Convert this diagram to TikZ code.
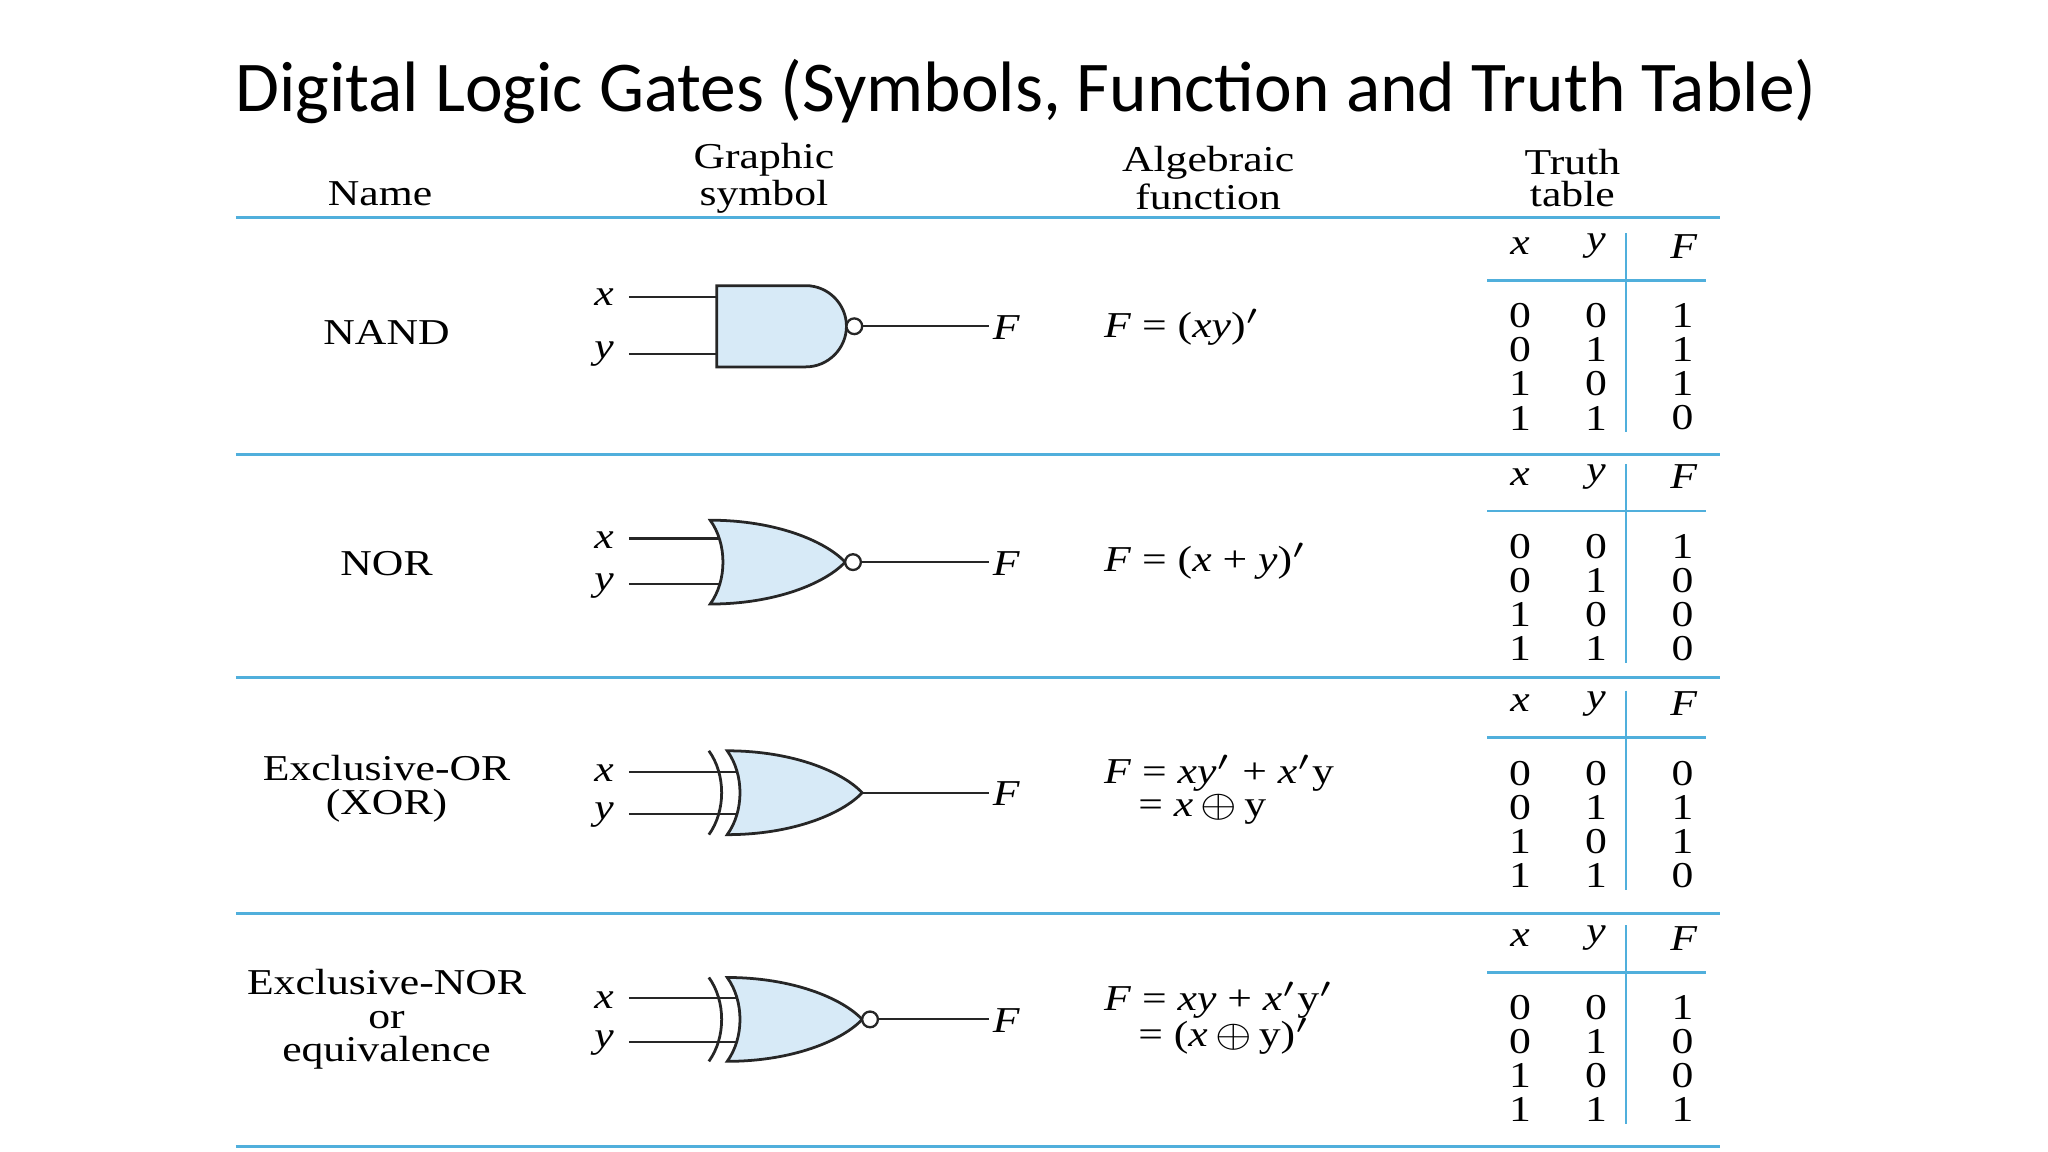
\documentclass[tikz,border=0pt]{standalone}
\usepackage{fontspec}
\setmainfont{Liberation Serif}
\newfontfamily\titlefont{Carlito}
\definecolor{rule}{RGB}{80,175,220}
\definecolor{gatefill}{RGB}{215,234,247}
\newcommand{\wide}[1]{\scalebox{1.2}[1]{#1}}
\begin{document}
\begin{tikzpicture}[x=0.01cm,y=-0.01cm,
  txt/.style={font=\fontsize{7.9}{7.2}\selectfont, inner sep=0pt},
  dig/.style={font=\fontsize{7.9}{9}\selectfont, inner sep=0pt},
  itl/.style={font=\fontsize{7.9}{9}\selectfont\itshape, inner sep=0pt},
  hdr/.style={font=\fontsize{7.9}{7}\selectfont, inner sep=0pt, align=center},
  rulel/.style={draw=rule, line width=0.6pt},
  wire/.style={draw=black!85, line width=0.45pt},
  bub/.style={draw=black!85,line width=0.5pt,fill=white,circle,minimum size=0.12cm,inner sep=0pt},
  gate/.style={draw=black!85, line width=0.6pt, fill=gatefill}]
\useasboundingbox (0,0) rectangle (1563,879);
\node[font=\titlefont\fontsize{15.5}{16}\selectfont, inner sep=0pt] (title) at (783,70) {Digital Logic Gates (Symbols, Function and Truth Table)};
% headers
\node[hdr] (hName) at (290,148) {\wide{Name}};
\node[hdr] (hG) at (583,136) {\wide{Graphic}\\\wide{symbol}};
\node[hdr] (hA) at (922,136) {\wide{Algebraic}\\\wide{function}};
\node[hdr] (hT) at (1200,136) {\wide{Truth}\\\wide{table}};
% rules
\foreach \yy/\n in {166/r0,347/r1,517/r2,697/r3,875/r4}
  \draw[rulel] (180,\yy) coordinate (\n a) -- (1313,\yy) coordinate (\n b);
% truth tables
\newcommand{\ttable}[6]{%
  \node[itl] (#6x) at (1160,#1) {\wide{x}};
  \node[itl] (#6y) at (1218,#1) {\wide{y}};
  \node[itl] (#6F) at (1285,#1) {\wide{F}};
  \draw[rulel] (1135,#1+26) coordinate (#6l) -- (1302,#1+26) coordinate (#6r);
  \draw[rulel] (1241,#1-10) coordinate (#6t) -- (1241,#1+142) coordinate (#6b);
  \foreach \xv/\yv/\fv [count=\k from 0] in {0/0/#2,0/1/#3,1/0/#4,1/1/#5}{
    \node[dig] (#6a\k) at (1160,#1+53+26*\k) {\wide{\xv}};
    \node[dig] (#6c\k) at (1218,#1+53+26*\k) {\wide{\yv}};
    \node[dig] (#6f\k) at (1284,#1+53+26*\k) {\wide{\fv}};}
}
\ttable{188}{1}{1}{1}{0}{t1}
\ttable{364}{1}{0}{0}{0}{t2}
\ttable{537}{0}{1}{1}{0}{t3}
\ttable{716}{1}{0}{0}{1}{t4}
% names
\node[txt] (n1) at (295,254) {\wide{NAND}};
\node[txt] (n2) at (295,430) {\wide{NOR}};
\node[txt,align=center] (n3) at (295,602) {\wide{Exclusive-OR}\\\wide{(XOR)}};
\node[txt,align=center] (n4) at (295,778) {\wide{Exclusive-NOR}\\\wide{or}\\\wide{equivalence}};
% functions
\node[txt,anchor=west] (f1) at (842,250) {\wide{\textit{F} = (\textit{xy})$'$}};
\node[txt,anchor=west] (f2) at (842,428) {\wide{\textit{F} = (\textit{x} + \textit{y})$'$}};
\node[txt,anchor=west] (f3) at (842,590) {\wide{\textit{F} = \textit{xy}$'$ + \textit{x}$'$y}};
\node[txt,anchor=west] (f3b) at (868,618) {\wide{= \textit{x}\,$\oplus$\,y}};
\node[txt,anchor=west] (f4) at (842,763) {\wide{\textit{F} = \textit{xy} + \textit{x}$'$y$'$}};
\node[txt,anchor=west] (f4b) at (868,791) {\wide{= (\textit{x}\,$\oplus$\,y)$'$}};
% NAND gate
\draw[gate] (547,218) -- (615,218) .. controls (632,218) and (646,232) .. (646,249)
   .. controls (646,266) and (632,280) .. (615,280) -- (547,280) -- cycle;
\node[bub] (b1) at (652,249) {};
\coordinate (o1) at (755,249);
\draw[wire] (b1) -- (o1);
\node[itl] (F1) at (768,250) {\wide{F}};
\node[itl] (x1) at (461,227) {\wide{x}};
\node[itl] (y1) at (461,270) {\wide{y}};
\draw[wire] (480,227) -- (547,227);
\draw[wire] (480,270) -- (547,270);
% OR shape macro
\newcommand{\orshape}[3]{% backx, cy, style
  \draw[#3] (#1,#2-32) .. controls (#1+50,#2-32) and (#1+88,#2-16) .. (#1+103,#2)
     .. controls (#1+88,#2+16) and (#1+50,#2+32) .. (#1,#2+32)
     .. controls (#1+13,#2+14) and (#1+13,#2-14) .. cycle;}
% NOR
\orshape{542}{429}{gate}
\node[bub] (b2) at (651,429) {};
\coordinate (o2) at (755,429);
\draw[wire] (b2) -- (o2);
\node[itl] (F2) at (768,430) {\wide{F}};
\node[itl] (x2) at (461,412) {\wide{x}};
\node[itl] (y2) at (461,447) {\wide{y}};
\draw[wire] (480,411) -- (549,411);
\draw[wire] (480,446) -- (549,446);
% XOR
\orshape{555}{605}{gate}
\draw[wire,line width=0.6pt] (541,573) .. controls (554,591) and (554,619) .. (541,637);
\coordinate (o3) at (755,605);
\draw[wire] (658,605) -- (o3);
\node[itl] (F3) at (768,606) {\wide{F}};
\node[itl] (x3) at (461,590) {\wide{x}};
\node[itl] (y3) at (461,622) {\wide{y}};
\draw[wire] (480,589) -- (562,589);
\draw[wire] (480,621) -- (562,621);
% XNOR
\orshape{555}{778}{gate}
\draw[wire,line width=0.6pt] (541,746) .. controls (554,764) and (554,792) .. (541,810);
\node[bub] (b4) at (664,778) {};
\coordinate (o4) at (755,778);
\draw[wire] (b4) -- (o4);
\node[itl] (F4) at (768,779) {\wide{F}};
\node[itl] (x4) at (461,763) {\wide{x}};
\node[itl] (y4) at (461,796) {\wide{y}};
\draw[wire] (480,762) -- (562,762);
\draw[wire] (480,795) -- (562,795);
\end{tikzpicture}
\end{document}
